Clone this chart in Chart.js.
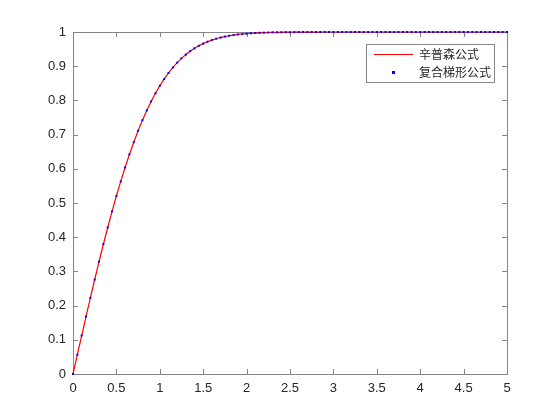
<!DOCTYPE html>
<html>
<head>
<meta charset="utf-8">
<script src="https://cdn.jsdelivr.net/npm/chart.js@4/dist/chart.umd.min.js"></script>
<style>
  html, body { margin: 0; padding: 0; background: #fff; }
  #wrap { width: 560px; height: 420px; }
</style>
</head>
<body>
<div id="wrap"><canvas id="chart" width="560" height="420"></canvas></div>
<script>
// x samples, step 0.05 from 0 to 5
const xValues = [
    0, 0.05, 0.1, 0.15, 0.2, 0.25, 0.3, 0.35, 0.4, 0.45,
    0.5, 0.55, 0.6, 0.65, 0.7, 0.75, 0.8, 0.85, 0.9, 0.95,
    1, 1.05, 1.1, 1.15, 1.2, 1.25, 1.3, 1.35, 1.4, 1.45,
    1.5, 1.55, 1.6, 1.65, 1.7, 1.75, 1.8, 1.85, 1.9, 1.95,
    2, 2.05, 2.1, 2.15, 2.2, 2.25, 2.3, 2.35, 2.4, 2.45,
    2.5, 2.55, 2.6, 2.65, 2.7, 2.75, 2.8, 2.85, 2.9, 2.95,
    3, 3.05, 3.1, 3.15, 3.2, 3.25, 3.3, 3.35, 3.4, 3.45,
    3.5, 3.55, 3.6, 3.65, 3.7, 3.75, 3.8, 3.85, 3.9, 3.95,
    4, 4.05, 4.1, 4.15, 4.2, 4.25, 4.3, 4.35, 4.4, 4.45,
    4.5, 4.55, 4.6, 4.65, 4.7, 4.75, 4.8, 4.85, 4.9, 4.95,
    5
];

// values (辛普森公式)
const simpsonValues = [
    0, 0.0564, 0.1125, 0.168, 0.2227, 0.2763, 0.3286, 0.3794, 0.4284, 0.4755,
    0.5205, 0.5633, 0.6039, 0.642, 0.6778, 0.7112, 0.7421, 0.7707, 0.7969, 0.8209,
    0.8427, 0.8624, 0.8802, 0.8961, 0.9103, 0.9229, 0.934, 0.9438, 0.9523, 0.9597,
    0.9661, 0.9716, 0.9764, 0.9804, 0.9838, 0.9867, 0.9891, 0.9911, 0.9928, 0.9942,
    0.9953, 0.9963, 0.997, 0.9976, 0.9981, 0.9985, 0.9989, 0.9991, 0.9993, 0.9995,
    0.9996, 0.9997, 0.9998, 0.9998, 0.9999, 0.9999, 0.9999, 1, 1, 1,
    1, 1, 1, 1, 1, 1, 1, 1, 1, 1,
    1, 1, 1, 1, 1, 1, 1, 1, 1, 1,
    1, 1, 1, 1, 1, 1, 1, 1, 1, 1,
    1, 1, 1, 1, 1, 1, 1, 1, 1, 1,
    1
];

// 复合梯形公式 - same points as far as the picture shows
const trapezoidValues = simpsonValues.slice();

const xTicks = [0, 0.5, 1, 1.5, 2, 2.5, 3, 3.5, 4, 4.5, 5];
const yTicks = [0, 0.1, 0.2, 0.3, 0.4, 0.5, 0.6, 0.7, 0.8, 0.9, 1];
const seriesNames = ['辛普森公式', '复合梯形公式'];

const AXIS_COLOR = '#868686';
const TEXT_COLOR = '#262626';

function toPoints(xs, ys) {
    return xs.map((x, i) => ({ x: x, y: ys[i] }));
}

// box around the plot plus inward tick marks on all four sides
// drawn before the datasets so the curve sits on top of the frame
const boxPlugin = {
    id: 'matlabBox',
    beforeDatasetsDraw(chart) {
        const ctx = chart.ctx;
        const area = chart.chartArea;
        const xs = chart.scales.x;
        const ys = chart.scales.y;
        const len = 5;
        ctx.save();
        ctx.strokeStyle = AXIS_COLOR;
        ctx.lineWidth = 1;
        ctx.beginPath();
        xTicks.forEach(t => {
            const px = Math.round(xs.getPixelForValue(t)) + 0.5;
            ctx.moveTo(px, area.bottom);
            ctx.lineTo(px, area.bottom - len);
            ctx.moveTo(px, area.top);
            ctx.lineTo(px, area.top + len);
        });
        yTicks.forEach(t => {
            const py = Math.round(ys.getPixelForValue(t)) + 0.5;
            ctx.moveTo(area.left, py);
            ctx.lineTo(area.left + len, py);
            ctx.moveTo(area.right, py);
            ctx.lineTo(area.right - len, py);
        });
        ctx.stroke();
        ctx.strokeRect(Math.round(area.left) + 0.5, Math.round(area.top) + 0.5,
            Math.round(area.right - area.left), Math.round(area.bottom - area.top));
        ctx.restore();
    }
};

// legend box inside the plot, top right
const legendPlugin = {
    id: 'insideLegend',
    afterDraw(chart) {
        const ctx = chart.ctx;
        const left = 366, top = 44, w = 128, h = 38;
        ctx.save();
        ctx.fillStyle = '#fff';
        ctx.fillRect(left, top, w, h);
        ctx.strokeStyle = AXIS_COLOR;
        ctx.lineWidth = 1;
        ctx.strokeRect(left + 0.5, top + 0.5, w, h);

        ctx.strokeStyle = '#ff0000';
        ctx.beginPath();
        ctx.moveTo(374, 54.5);
        ctx.lineTo(413, 54.5);
        ctx.stroke();

        ctx.fillStyle = '#0000ff';
        ctx.fillRect(392, 71, 3, 3);

        ctx.fillStyle = TEXT_COLOR;
        ctx.font = '12px "Noto Sans CJK SC"';
        ctx.textBaseline = 'middle';
        ctx.textAlign = 'left';
        ctx.fillText(seriesNames[0], 419, 54);
        ctx.fillText(seriesNames[1], 419, 72);
        ctx.restore();
    }
};

const chart = new Chart(document.getElementById('chart').getContext('2d'), {
    type: 'scatter',
    data: {
        datasets: [
            {
                label: seriesNames[0],
                data: toPoints(xValues, simpsonValues),
                showLine: true,
                borderColor: '#ff0000',
                borderWidth: 1.2,
                pointRadius: 0,
                clip: false,
                order: 2
            },
            {
                label: seriesNames[1],
                data: toPoints(xValues, trapezoidValues),
                showLine: false,
                backgroundColor: '#0000ff',
                borderColor: '#0000ff',
                pointStyle: 'rect',
                pointRadius: 1.4,
                borderWidth: 0,
                clip: false,
                order: 1
            }
        ]
    },
    options: {
        responsive: false,
        animation: false,
        events: [],
        layout: { padding: { top: 32, right: 53, left: 0, bottom: 0 } },
        plugins: {
            legend: { display: false },
            tooltip: { enabled: false }
        },
        scales: {
            x: {
                type: 'linear',
                min: 0,
                max: 5,
                afterBuildTicks: scale => { scale.ticks = xTicks.map(v => ({ value: v })); },
                afterFit: scale => { scale.height = 46; },
                grid: { display: false, drawTicks: false },
                border: { display: false },
                ticks: {
                    padding: 7,
                    color: TEXT_COLOR,
                    font: { family: 'Liberation Sans', size: 13 },
                    maxRotation: 0,
                    callback: v => String(v)
                }
            },
            y: {
                type: 'linear',
                min: 0,
                max: 1,
                afterBuildTicks: scale => { scale.ticks = yTicks.map(v => ({ value: v })); },
                afterFit: scale => { scale.width = 73; },
                grid: { display: false, drawTicks: false },
                border: { display: false },
                ticks: {
                    padding: 7,
                    color: TEXT_COLOR,
                    font: { family: 'Liberation Sans', size: 13 },
                    callback: v => String(v)
                }
            }
        }
    },
    plugins: [boxPlugin, legendPlugin]
});
</script>
</body>
</html>
